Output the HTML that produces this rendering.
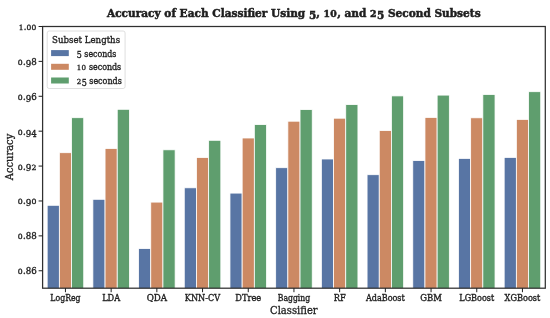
<!DOCTYPE html><html><head><meta charset="utf-8"><title>Accuracy of Each Classifier</title>
<style>html,body{margin:0;padding:0;background:#fff}svg{display:block}text{font-family:'DejaVu Serif Condensed','DejaVu Serif','Liberation Serif',serif;fill:#1e1e1e;stroke:#1e1e1e;stroke-width:0.32px;paint-order:stroke}</style></head><body>
<svg width="550" height="318" viewBox="0 0 550 318">
<rect width="550" height="318" fill="#fff"/>
<rect x="47.17" y="205.30" width="12.19" height="85.90" fill="#5875a4" stroke="#fff" stroke-width="0.8"/>
<rect x="59.36" y="152.70" width="12.19" height="138.50" fill="#cc8963" stroke="#fff" stroke-width="0.8"/>
<rect x="71.54" y="117.70" width="12.19" height="173.50" fill="#5f9e6e" stroke="#fff" stroke-width="0.8"/>
<rect x="92.87" y="199.30" width="12.19" height="91.90" fill="#5875a4" stroke="#fff" stroke-width="0.8"/>
<rect x="105.06" y="148.50" width="12.19" height="142.70" fill="#cc8963" stroke="#fff" stroke-width="0.8"/>
<rect x="117.24" y="109.30" width="12.19" height="181.90" fill="#5f9e6e" stroke="#fff" stroke-width="0.8"/>
<rect x="138.57" y="248.60" width="12.19" height="42.60" fill="#5875a4" stroke="#fff" stroke-width="0.8"/>
<rect x="150.76" y="202.10" width="12.19" height="89.10" fill="#cc8963" stroke="#fff" stroke-width="0.8"/>
<rect x="162.94" y="149.80" width="12.19" height="141.40" fill="#5f9e6e" stroke="#fff" stroke-width="0.8"/>
<rect x="184.27" y="187.80" width="12.19" height="103.40" fill="#5875a4" stroke="#fff" stroke-width="0.8"/>
<rect x="196.46" y="157.50" width="12.19" height="133.70" fill="#cc8963" stroke="#fff" stroke-width="0.8"/>
<rect x="208.64" y="140.30" width="12.19" height="150.90" fill="#5f9e6e" stroke="#fff" stroke-width="0.8"/>
<rect x="229.97" y="193.10" width="12.19" height="98.10" fill="#5875a4" stroke="#fff" stroke-width="0.8"/>
<rect x="242.16" y="138.00" width="12.19" height="153.20" fill="#cc8963" stroke="#fff" stroke-width="0.8"/>
<rect x="254.34" y="124.60" width="12.19" height="166.60" fill="#5f9e6e" stroke="#fff" stroke-width="0.8"/>
<rect x="275.67" y="167.70" width="12.19" height="123.50" fill="#5875a4" stroke="#fff" stroke-width="0.8"/>
<rect x="287.86" y="121.20" width="12.19" height="170.00" fill="#cc8963" stroke="#fff" stroke-width="0.8"/>
<rect x="300.04" y="109.60" width="12.19" height="181.60" fill="#5f9e6e" stroke="#fff" stroke-width="0.8"/>
<rect x="321.37" y="159.00" width="12.19" height="132.20" fill="#5875a4" stroke="#fff" stroke-width="0.8"/>
<rect x="333.56" y="118.20" width="12.19" height="173.00" fill="#cc8963" stroke="#fff" stroke-width="0.8"/>
<rect x="345.74" y="104.60" width="12.19" height="186.60" fill="#5f9e6e" stroke="#fff" stroke-width="0.8"/>
<rect x="367.07" y="174.70" width="12.19" height="116.50" fill="#5875a4" stroke="#fff" stroke-width="0.8"/>
<rect x="379.26" y="130.60" width="12.19" height="160.60" fill="#cc8963" stroke="#fff" stroke-width="0.8"/>
<rect x="391.44" y="95.90" width="12.19" height="195.30" fill="#5f9e6e" stroke="#fff" stroke-width="0.8"/>
<rect x="412.77" y="160.60" width="12.19" height="130.60" fill="#5875a4" stroke="#fff" stroke-width="0.8"/>
<rect x="424.96" y="117.40" width="12.19" height="173.80" fill="#cc8963" stroke="#fff" stroke-width="0.8"/>
<rect x="437.14" y="95.10" width="12.19" height="196.10" fill="#5f9e6e" stroke="#fff" stroke-width="0.8"/>
<rect x="458.47" y="158.40" width="12.19" height="132.80" fill="#5875a4" stroke="#fff" stroke-width="0.8"/>
<rect x="470.66" y="117.80" width="12.19" height="173.40" fill="#cc8963" stroke="#fff" stroke-width="0.8"/>
<rect x="482.84" y="94.50" width="12.19" height="196.70" fill="#5f9e6e" stroke="#fff" stroke-width="0.8"/>
<rect x="504.17" y="157.40" width="12.19" height="133.80" fill="#5875a4" stroke="#fff" stroke-width="0.8"/>
<rect x="516.36" y="119.40" width="12.19" height="171.80" fill="#cc8963" stroke="#fff" stroke-width="0.8"/>
<rect x="528.54" y="91.70" width="12.19" height="199.50" fill="#5f9e6e" stroke="#fff" stroke-width="0.8"/>
<rect x="0" y="288.20" width="550" height="29.80" fill="#fff"/>
<rect x="42.60" y="26.50" width="502.70" height="261.70" fill="none" stroke="#303030" stroke-width="1.25"/>
<line x1="38.60" y1="26.50" x2="42.60" y2="26.50" stroke="#1e1e1e" stroke-width="1"/>
<text x="36.7" y="30.00" text-anchor="end" font-size="8.9" textLength="18.0" lengthAdjust="spacingAndGlyphs"><tspan font-size="7.12" font-family="'DejaVu Serif','Liberation Serif',serif" letter-spacing="0.3">1</tspan>.<tspan font-size="7.12" font-family="'DejaVu Serif','Liberation Serif',serif" letter-spacing="0.3">00</tspan></text>
<line x1="38.60" y1="61.39" x2="42.60" y2="61.39" stroke="#1e1e1e" stroke-width="1"/>
<text x="36.7" y="64.89" text-anchor="end" font-size="8.9" textLength="19.0" lengthAdjust="spacingAndGlyphs"><tspan font-size="7.12" font-family="'DejaVu Serif','Liberation Serif',serif" letter-spacing="0.3">0</tspan>.<tspan dy="1.87">9</tspan><tspan dy="-1.87">8</tspan></text>
<line x1="38.60" y1="96.29" x2="42.60" y2="96.29" stroke="#1e1e1e" stroke-width="1"/>
<text x="36.7" y="99.79" text-anchor="end" font-size="8.9" textLength="19.0" lengthAdjust="spacingAndGlyphs"><tspan font-size="7.12" font-family="'DejaVu Serif','Liberation Serif',serif" letter-spacing="0.3">0</tspan>.<tspan dy="1.87">9</tspan><tspan dy="-1.87">6</tspan></text>
<line x1="38.60" y1="131.18" x2="42.60" y2="131.18" stroke="#1e1e1e" stroke-width="1"/>
<text x="36.7" y="134.68" text-anchor="end" font-size="8.9" textLength="19.0" lengthAdjust="spacingAndGlyphs"><tspan font-size="7.12" font-family="'DejaVu Serif','Liberation Serif',serif" letter-spacing="0.3">0</tspan>.<tspan dy="1.87">94</tspan><tspan dy="-1.87"></tspan></text>
<line x1="38.60" y1="166.07" x2="42.60" y2="166.07" stroke="#1e1e1e" stroke-width="1"/>
<text x="36.7" y="169.57" text-anchor="end" font-size="8.9" textLength="19.0" lengthAdjust="spacingAndGlyphs"><tspan font-size="7.12" font-family="'DejaVu Serif','Liberation Serif',serif" letter-spacing="0.3">0</tspan>.<tspan dy="1.87">9</tspan><tspan dy="-1.87" font-size="7.12" font-family="'DejaVu Serif','Liberation Serif',serif" letter-spacing="0.3">2</tspan></text>
<line x1="38.60" y1="200.97" x2="42.60" y2="200.97" stroke="#1e1e1e" stroke-width="1"/>
<text x="36.7" y="204.47" text-anchor="end" font-size="8.9" textLength="19.0" lengthAdjust="spacingAndGlyphs"><tspan font-size="7.12" font-family="'DejaVu Serif','Liberation Serif',serif" letter-spacing="0.3">0</tspan>.<tspan dy="1.87">9</tspan><tspan dy="-1.87" font-size="7.12" font-family="'DejaVu Serif','Liberation Serif',serif" letter-spacing="0.3">0</tspan></text>
<line x1="38.60" y1="235.86" x2="42.60" y2="235.86" stroke="#1e1e1e" stroke-width="1"/>
<text x="36.7" y="239.36" text-anchor="end" font-size="8.9" textLength="19.0" lengthAdjust="spacingAndGlyphs"><tspan font-size="7.12" font-family="'DejaVu Serif','Liberation Serif',serif" letter-spacing="0.3">0</tspan>.88</text>
<line x1="38.60" y1="270.75" x2="42.60" y2="270.75" stroke="#1e1e1e" stroke-width="1"/>
<text x="36.7" y="274.25" text-anchor="end" font-size="8.9" textLength="19.0" lengthAdjust="spacingAndGlyphs"><tspan font-size="7.12" font-family="'DejaVu Serif','Liberation Serif',serif" letter-spacing="0.3">0</tspan>.86</text>
<line x1="65.45" y1="288.20" x2="65.45" y2="292.20" stroke="#1e1e1e" stroke-width="1"/>
<text x="65.45" y="301" text-anchor="middle" font-size="8.7" textLength="30.2" lengthAdjust="spacingAndGlyphs">LogReg</text>
<line x1="111.15" y1="288.20" x2="111.15" y2="292.20" stroke="#1e1e1e" stroke-width="1"/>
<text x="111.15" y="301" text-anchor="middle" font-size="8.7" textLength="18.0" lengthAdjust="spacingAndGlyphs">LDA</text>
<line x1="156.85" y1="288.20" x2="156.85" y2="292.20" stroke="#1e1e1e" stroke-width="1"/>
<text x="156.85" y="301" text-anchor="middle" font-size="8.7" textLength="20.4" lengthAdjust="spacingAndGlyphs">QDA</text>
<line x1="202.55" y1="288.20" x2="202.55" y2="292.20" stroke="#1e1e1e" stroke-width="1"/>
<text x="202.55" y="301" text-anchor="middle" font-size="8.7" textLength="35.4" lengthAdjust="spacingAndGlyphs">KNN-CV</text>
<line x1="248.25" y1="288.20" x2="248.25" y2="292.20" stroke="#1e1e1e" stroke-width="1"/>
<text x="248.25" y="301" text-anchor="middle" font-size="8.7" textLength="26.0" lengthAdjust="spacingAndGlyphs">DTree</text>
<line x1="293.95" y1="288.20" x2="293.95" y2="292.20" stroke="#1e1e1e" stroke-width="1"/>
<text x="293.95" y="301" text-anchor="middle" font-size="8.7" textLength="32.4" lengthAdjust="spacingAndGlyphs">Bagging</text>
<line x1="339.65" y1="288.20" x2="339.65" y2="292.20" stroke="#1e1e1e" stroke-width="1"/>
<text x="339.65" y="301" text-anchor="middle" font-size="8.7" textLength="12.0" lengthAdjust="spacingAndGlyphs">RF</text>
<line x1="385.35" y1="288.20" x2="385.35" y2="292.20" stroke="#1e1e1e" stroke-width="1"/>
<text x="385.35" y="301" text-anchor="middle" font-size="8.7" textLength="38.8" lengthAdjust="spacingAndGlyphs">AdaBoost</text>
<line x1="431.05" y1="288.20" x2="431.05" y2="292.20" stroke="#1e1e1e" stroke-width="1"/>
<text x="431.05" y="301" text-anchor="middle" font-size="8.7" textLength="21.6" lengthAdjust="spacingAndGlyphs">GBM</text>
<line x1="476.75" y1="288.20" x2="476.75" y2="292.20" stroke="#1e1e1e" stroke-width="1"/>
<text x="476.75" y="301" text-anchor="middle" font-size="8.7" textLength="34.9" lengthAdjust="spacingAndGlyphs">LGBoost</text>
<line x1="522.45" y1="288.20" x2="522.45" y2="292.20" stroke="#1e1e1e" stroke-width="1"/>
<text x="522.45" y="301" text-anchor="middle" font-size="8.7" textLength="35.7" lengthAdjust="spacingAndGlyphs">XGBoost</text>
<text x="293.8" y="313.6" text-anchor="middle" font-size="11.9" textLength="47.6" lengthAdjust="spacingAndGlyphs">Classifier</text>
<text transform="translate(12.9,157) rotate(-90)" text-anchor="middle" font-size="11.2" textLength="46.5" lengthAdjust="spacingAndGlyphs">Accuracy</text>
<text x="293.8" y="16.5" text-anchor="middle" font-size="11.73" font-weight="bold" style="stroke-width:0.5px" textLength="373.6" lengthAdjust="spacingAndGlyphs">Accuracy of Each Classifier Using <tspan dy="2.45">5</tspan><tspan dy="-2.45">, </tspan><tspan font-size="9.34" font-family="'DejaVu Serif','Liberation Serif',serif" letter-spacing="0.3">10</tspan>, and <tspan font-size="9.34" font-family="'DejaVu Serif','Liberation Serif',serif" letter-spacing="0.3">2</tspan><tspan dy="2.45">5</tspan><tspan dy="-2.45"> Second Subsets</tspan></text>
<rect x="47.2" y="31" width="77.9" height="57.5" rx="2" fill="#fff" fill-opacity="0.8" stroke="#dadada" stroke-width="0.9"/>
<text x="86.1" y="42.5" text-anchor="middle" font-size="9.9" textLength="68.0" lengthAdjust="spacingAndGlyphs">Subset Lengths</text>
<rect x="51.1" y="50.10" width="17.7" height="6" fill="#5875a4"/>
<text x="76.8" y="56.50" font-size="8.7" textLength="39.6" lengthAdjust="spacingAndGlyphs"><tspan dy="1.83">5</tspan><tspan dy="-1.83"> seconds</tspan></text>
<rect x="51.1" y="63.80" width="17.7" height="6" fill="#cc8963"/>
<text x="76.8" y="70.20" font-size="8.7" textLength="44.4" lengthAdjust="spacingAndGlyphs"><tspan font-size="6.96" font-family="'DejaVu Serif','Liberation Serif',serif" letter-spacing="0.3">10</tspan> seconds</text>
<rect x="51.1" y="77.50" width="17.7" height="6" fill="#5f9e6e"/>
<text x="76.8" y="83.90" font-size="8.7" textLength="45.0" lengthAdjust="spacingAndGlyphs"><tspan font-size="6.96" font-family="'DejaVu Serif','Liberation Serif',serif" letter-spacing="0.3">2</tspan><tspan dy="1.83">5</tspan><tspan dy="-1.83"> seconds</tspan></text>
</svg></body></html>
